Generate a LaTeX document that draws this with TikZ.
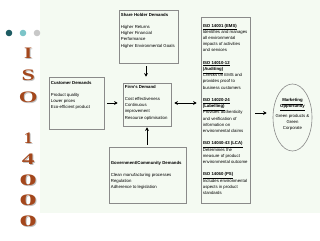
\documentclass[tikz,border=0pt]{standalone}
\usepackage{fontspec}
\setmainfont{Liberation Sans}
\newfontfamily\isofont{Liberation Serif}
\usetikzlibrary{arrows.meta,shapes.geometric}
\definecolor{panel}{HTML}{F4FAF2}
\definecolor{boxgray}{HTML}{8A8A8A}
\definecolor{isobrown}{HTML}{A4471C}
\definecolor{dotA}{HTML}{1E5C63}
\definecolor{dotB}{HTML}{7CC4C8}
\definecolor{dotC}{HTML}{C8C8C8}
\tikzset{
  box/.style={draw=boxgray, line width=0.6pt, rectangle, inner sep=0pt},
  txt/.style={anchor=north west, inner sep=0pt, align=left, font=\fontsize{4.3}{6.2}\selectfont},
  arr/.style={-{Stealth[length=3.6pt,width=3.8pt]}, line width=0.9pt},
  darr/.style={{Stealth[length=3.6pt,width=3.8pt]}-{Stealth[length=3.6pt,width=3.8pt]}, line width=0.9pt},
  letter/.style={font=\isofont\bfseries\fontsize{16}{16}\selectfont, text=isobrown, inner sep=0pt},
  lshadow/.style={font=\isofont\bfseries\fontsize{16}{16}\selectfont, text=black!25, inner sep=0pt},
  dot/.style={circle, inner sep=0pt, minimum size=6.6pt}
}
\newcommand{\hd}[1]{\underline{\textbf{#1}}}
\begin{document}
\begin{tikzpicture}[x=1pt,y=-1pt]
\useasboundingbox (0,0) rectangle (320,240);
\fill[panel] (40,0) rectangle (320,213);

% dots
\node[dot, fill=dotA] (d1) at (9,33) {};
\node[dot, fill=dotB] (d2) at (23,33) {};
\node[dot, fill=dotC] (d3) at (37,33) {};

% ISO 14000 letters
\foreach \ch/\yy/\sx/\nm in {I/53/1.3/l1, S/75/1.5/l2, O/97/1.5/l3, 1/138/1.1/l4, 4/159/1.6/l5, 0/180/2.2/l6, 0/200/2.2/l7, 0/221/2.2/l8}{
  \node[lshadow, xscale=\sx] (\nm s) at (29.2,\yy+1.2) {\ch};
  \node[letter, xscale=\sx] (\nm) at (28.2,\yy) {\ch};
}

% boxes
\node[box, minimum width=55pt, minimum height=52pt] (cust) at (76.5,103) {};
\node[box, minimum width=59pt, minimum height=53pt] (share) at (148.5,36.5) {};
\node[box, minimum width=48pt, minimum height=43pt] (firm) at (147,104.5) {};
\node[box, minimum width=77pt, minimum height=56pt] (gov) at (147.5,175) {};
\node[box, minimum width=49pt, minimum height=186pt] (iso) at (225.5,110) {};
\node[draw=boxgray, line width=0.6pt, ellipse, inner sep=0pt, minimum width=39pt, minimum height=67pt] (mk) at (292.5,117.5) {};

% texts
\node[txt] (custT) at ([shift={(2,4)}]cust.north west) {\textbf{Customer Demands}\\[6.2pt]Product quality\\Lower prices\\Eco-efficient product};
\node[txt] (shareT) at ([shift={(2,3)}]share.north west) {\textbf{Share Holder Demands}\\[6.2pt]Higher Returns\\Higher Financial\\Performance\\Higher Environmental Goals};
\node[txt] (firmT) at ([shift={(2,2)}]firm.north west) {\textbf{Firm's Demand}\\[6.2pt]Cost effectiveness\\Continuous\\improvement\\Resource optimisation};
\node[txt] (govT) at ([shift={(2,14)}]gov.north west) {\textbf{Government/Community Demands}\\[6.2pt]Clean manufacturing processes\\Regulation\\Adherence to legislation};
\node[txt] (isoT) at ([shift={(2,7)}]iso.north west) {\hd{ISO 14001 (EMS)}\\Identifies and manages\\all environmental\\impacts of activities\\and services\\[6.2pt]
\hd{ISO 14010-12}\\\hd{(Auditing)}\\Checks on EMS and\\provides proof to\\business customers\\[6.2pt]
\hd{ISO 14020-24}\\\hd{(Labelling)}\\Provides authenticity\\and verification of\\information on\\environmental claims\\[6.2pt]
\hd{ISO 14040-43 (LCA)}\\Determines the\\measure of product\\environmental outcome\\[6.2pt]
\hd{ISO 14060 (PS)}\\Includes environmental\\aspects in product\\standards};
\node[inner sep=0pt, align=center, font=\fontsize{4.3}{6.2}\selectfont] (mkT) at (292.5,114.5) {\hd{Marketing}\\\hd{Opportunity}\\[3pt]Green products \&\\Green\\Corporate};

% connectors
\draw[arr, shorten <=3pt, shorten >=5pt] (cust.east) -- (cust.east -| firm.west);
\draw[arr, shorten <=3pt, shorten >=6pt] ([xshift=-1pt]firm.north |- share.south) -- ([xshift=-1pt]firm.north);
\draw[arr, shorten <=2pt, shorten >=1pt] (gov.north -| firm.south) -- (firm.south);
\draw[darr, shorten <=3pt, shorten >=4pt] ([yshift=1.5pt]firm.east) -- ([yshift=1.5pt]firm.east -| iso.west);
\draw[arr, shorten <=5pt, shorten >=6pt] ([yshift=-3pt]iso.east) -- ([yshift=-3pt]iso.east -| mk.west);
\end{tikzpicture}
\end{document}
